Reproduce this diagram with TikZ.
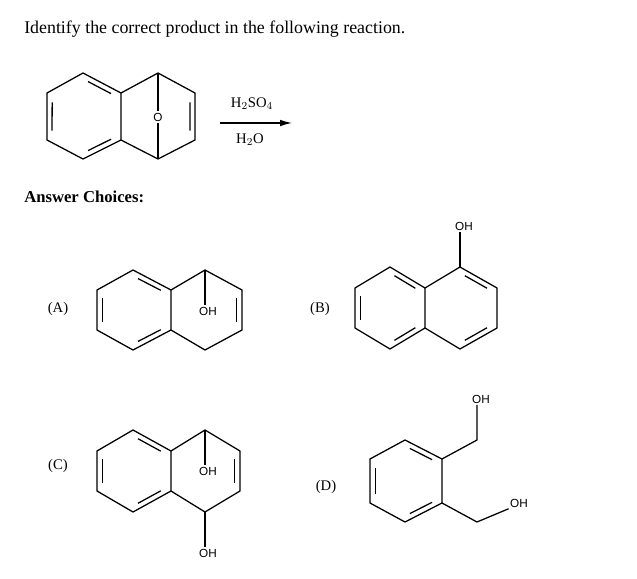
\documentclass[tikz,border=0pt]{standalone}
\usepackage{fontspec}
\setmainfont{Liberation Serif}
\newfontfamily\ohfont{Liberation Sans}
\usetikzlibrary{calc,arrows.meta}
\tikzset{
 bond/.style={line width=0.95pt},
 atom/.style={font=\ohfont\fontsize{8.8}{9}\selectfont,inner sep=1pt},
 lbl/.style={font=\fontsize{11}{13}\selectfont,inner sep=0pt},
}
\newcommand{\dbl}[3]{\draw[bond] ($($(#1)!0.15!(#2)$)!4.2pt!(#3)$) -- ($($(#2)!0.15!(#1)$)!4.2pt!(#3)$);}
\begin{document}
\begin{tikzpicture}[x=0.75pt,y=-0.75pt]
\useasboundingbox (0,0) rectangle (637,579);
\node[anchor=west,font=\fontsize{13.4}{15}\selectfont,inner sep=0] (title) at (24,29) {Identify the correct product in the following reaction.};
\node[anchor=west,font=\bfseries\fontsize{12.5}{14}\selectfont,inner sep=0] (ans) at (24,197) {Answer Choices:};
% reactant
\coordinate (r1) at (83,73); \coordinate (r2) at (121,93); \coordinate (r3) at (121,140);
\coordinate (r4) at (83,159); \coordinate (r5) at (47,140); \coordinate (r6) at (47,93);
\coordinate (rc) at (84,116);
\coordinate (rt) at (158,73); \coordinate (rb) at (158,159);
\coordinate (rr1) at (195,93); \coordinate (rr2) at (195,140); \coordinate (rrc) at (160,116);
\draw[bond] (r1)--(r2)--(r3)--(r4)--(r5)--(r6)--cycle;
\dbl{r1}{r2}{rc}\dbl{r5}{r6}{rc}\dbl{r3}{r4}{rc}
\draw[bond] (r2)--(rt)--(rr1)--(rr2)--(rb)--(r3);
\dbl{rr1}{rr2}{rrc}
\node[atom] (O) at (158,117) {O};
\draw[bond] (rt)--(O)--(rb);
\node[lbl] (a1) at (252,104) {H$_2$SO$_4$};
\node[lbl] (a2) at (250,140) {H$_2$O};
\coordinate (arS) at (220,123); \coordinate (arE) at (292,123);
\draw[bond,-{Latex[length=9pt,width=5pt]}] (arS)--(arE);
% A
\node[lbl] (lA) at (58,309) {(A)};
\coordinate (a1) at (133,270); \coordinate (a2) at (171,290); \coordinate (a3) at (171,330);
\coordinate (a4) at (133,350); \coordinate (a5) at (97,330); \coordinate (a6) at (97,290);
\coordinate (ac) at (134,310); \coordinate (at) at (205,270); \coordinate (ab) at (205,350);
\coordinate (ar1) at (242,290); \coordinate (ar2) at (242,330); \coordinate (arc) at (206,310);
\draw[bond] (a1)--(a2)--(a3)--(a4)--(a5)--(a6)--cycle;
\dbl{a1}{a2}{ac}\dbl{a5}{a6}{ac}\dbl{a3}{a4}{ac}
\draw[bond] (a2)--(at)--(ar1)--(ar2)--(ab)--(a3);
\dbl{ar1}{ar2}{arc}
\node[atom] (aOH) at (208,311) {OH};
\draw[bond] (at)--(aOH.north-|at);
% C
\node[lbl] (lC) at (58,466) {(C)};
\coordinate (c1) at (133,430); \coordinate (c2) at (171,451); \coordinate (c3) at (171,491);
\coordinate (c4) at (133,512); \coordinate (c5) at (97,491); \coordinate (c6) at (97,451);
\coordinate (cc) at (134,471); \coordinate (ct) at (205,430); \coordinate (cb) at (205,512);
\coordinate (cr1) at (240,451); \coordinate (cr2) at (240,491); \coordinate (crc) at (204,471);
\draw[bond] (c1)--(c2)--(c3)--(c4)--(c5)--(c6)--cycle;
\dbl{c1}{c2}{cc}\dbl{c5}{c6}{cc}\dbl{c3}{c4}{cc}
\draw[bond] (c2)--(ct)--(cr1)--(cr2)--(cb)--(c3);
\dbl{cr1}{cr2}{crc}
\node[atom] (cOH) at (208,471) {OH};
\draw[bond] (ct)--(cOH.north-|ct);
\node[atom] (cOH2) at (208,553) {OH};
\draw[bond] (cb)--(cOH2.north-|cb);
% B
\node[lbl] (lB) at (320,309) {(B)};
\coordinate (b1) at (390,267); \coordinate (b2) at (425,288); \coordinate (b3) at (425,328);
\coordinate (b4) at (390,349); \coordinate (b5) at (355,328); \coordinate (b6) at (355,288);
\coordinate (bc) at (390,308);
\coordinate (bt) at (460,267); \coordinate (br1) at (497,288); \coordinate (br2) at (497,328);
\coordinate (bb) at (460,349); \coordinate (brc) at (461,308);
\draw[bond] (b1)--(b2)--(b3)--(b4)--(b5)--(b6)--cycle;
\dbl{b1}{b2}{bc}\dbl{b5}{b6}{bc}\dbl{b3}{b4}{bc}
\draw[bond] (b2)--(bt)--(br1)--(br2)--(bb)--(b3);
\dbl{bt}{br1}{brc}\dbl{br2}{bb}{brc}
\node[atom] (bOH) at (464,226) {OH};
\draw[bond] (bt)--(bOH.south-|bt);
% D
\node[lbl] (lD) at (326,487) {(D)};
\coordinate (d1) at (405,440); \coordinate (d2) at (442,459); \coordinate (d3) at (442,503);
\coordinate (d4) at (405,522); \coordinate (d5) at (370,503); \coordinate (d6) at (370,459);
\coordinate (dc) at (406,481);
\draw[bond] (d1)--(d2)--(d3)--(d4)--(d5)--(d6)--cycle;
\dbl{d1}{d2}{dc}\dbl{d5}{d6}{dc}\dbl{d3}{d4}{dc}
\coordinate (dm1) at (477,440); \coordinate (dm2) at (477,522);
\node[atom] (dOH1) at (481,399) {OH};
\node[atom] (dOH2) at (519,503) {OH};
\draw[bond] (d2)--(dm1)--(dOH1.south-|dm1);
\draw[bond] (d3)--(dm2)--(dOH2.south west);
\end{tikzpicture}
\end{document}
